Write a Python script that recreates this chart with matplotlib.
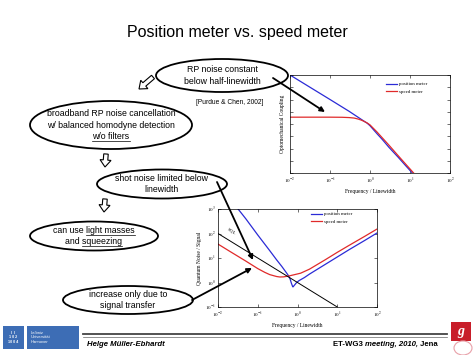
import matplotlib
matplotlib.use("Agg")
import matplotlib.pyplot as plt
from matplotlib.patches import Ellipse, FancyArrow, Rectangle

# Folienmaße in Pixel
W, H = 474, 355

# Daten oben: optomechanische Kopplung
f_top = [0.01, 0.03, 0.1, 0.3, 0.5, 0.7, 0.85, 1.0, 1.5, 2, 3, 5, 8, 12, 15]
k_pos = [10, 3.33, 1.0, 0.33, 0.19, 0.132, 0.108, 0.085, 0.04, 0.024, 0.011,
         0.0045, 0.0019, 0.00092, 0.0006]
f_top_sp = [0.01, 0.1, 0.2, 0.3, 0.4, 0.5, 0.6, 0.7, 0.85, 1.0, 1.5, 2, 3, 5, 8, 12, 15]
k_speed = [0.19, 0.19, 0.188, 0.183, 0.175, 0.16, 0.145, 0.13, 0.11, 0.092,
           0.047, 0.028, 0.0135, 0.0052, 0.0022, 0.00105, 0.0007]

# Daten unten: Quantenrauschen / Signal
f_pos = [0.01, 0.032, 0.05, 0.1, 0.2, 0.3, 0.4, 0.5, 0.6, 0.65, 0.7, 0.75, 0.77,
         0.85, 0.95, 1.1, 1.5, 2, 3, 5, 10, 20, 50, 100]
n_pos = [12000, 1000, 400, 87, 20, 8.3, 4.6, 2.8, 1.85, 1.4, 0.95, 0.7, 0.66,
         0.8, 1.0, 1.2, 1.6, 2.2, 3.3, 5.5, 11, 22, 53, 105]
f_speed = [0.01, 0.02, 0.05, 0.1, 0.15, 0.2, 0.3, 0.36, 0.45, 0.6, 0.8, 1.2,
           2, 5, 10, 20, 50, 100]
n_speed = [37, 18.5, 7.5, 3.7, 2.6, 2.1, 1.75, 1.68, 1.7, 1.84, 2.05, 2.4,
           3.5, 8.5, 17, 33, 78, 152]
f_sql = [0.01, 10]
n_sql = [100, 0.1]

xticks = [0.01, 0.1, 1, 10, 100]
xticklabels = ['$10^{-2}$', '$10^{-1}$', '$10^{0}$', '$10^{1}$', '$10^{2}$']
yticks_bot = [0.1, 1, 10, 100, 1000]
yticklabels_bot = ['$10^{-1}$', '$10^{0}$', '$10^{1}$', '$10^{2}$', '$10^{3}$']

BLUE = '#2b2bd6'
RED = '#e02a2a'

plt.rcParams['font.family'] = ['Liberation Sans', 'DejaVu Sans']
plt.rcParams['mathtext.fontset'] = 'stix'


def rect(x0, y0, x1, y1):
    return [x0 / W, 1 - y1 / H, (x1 - x0) / W, (y1 - y0) / H]


fig = plt.figure(figsize=(W / 100, H / 100), dpi=100)


def style_axes(ax):
    ax.set_xscale('log')
    ax.set_yscale('log')
    ax.set_xlim(0.01, 100)
    ax.set_xticks(xticks)
    ax.set_xticklabels(xticklabels, fontsize=3.6, family='Liberation Serif')
    ax.minorticks_off()
    ax.tick_params(direction='in', top=True, right=True, length=2, width=0.4, pad=1.5)
    ax.tick_params(axis='x', pad=2.5)
    for s in ax.spines.values():
        s.set_linewidth(0.5)
    ax.set_xlabel('Frequency / Linewidth', fontsize=4, family='Liberation Serif', labelpad=2)


legend_font = {'family': 'Liberation Serif', 'size': 3.5}

# --- oberes Diagramm ---
ax1 = fig.add_axes(rect(290, 75, 450, 173))
style_axes(ax1)
ax1.plot(f_top, k_pos, color=BLUE, lw=0.9, label='position meter')
ax1.plot(f_top_sp, k_speed, color=RED, lw=0.9, label='speed meter')
ax1.set_ylim(1e-3, 10)
ax1.set_yticks([10 ** (k / 2) for k in range(-6, 3)])
ax1.set_yticklabels([])
ax1.set_ylabel('Optomechanical Coupling', fontsize=4, family='Liberation Serif', labelpad=2)
ax1.legend(loc='upper left', bbox_to_anchor=(0.6, 0.93), frameon=False, prop=legend_font,
           handlelength=2.2, handletextpad=0.5, borderaxespad=0, borderpad=0,
           labelspacing=0.7)

# --- unteres Diagramm ---
ax2 = fig.add_axes(rect(218, 209, 377, 307))
style_axes(ax2)
ax2.plot(f_pos, n_pos, color=BLUE, lw=0.9, label='position meter')
ax2.plot(f_speed, n_speed, color=RED, lw=0.9, label='speed meter')
ax2.plot(f_sql, n_sql, color='black', lw=0.7)
ax2.set_ylim(0.1, 1000)
ax2.set_yticks(yticks_bot)
ax2.set_yticklabels(yticklabels_bot, fontsize=3.6, family='Liberation Serif')
ax2.minorticks_off()
ax2.set_ylabel('Quantum Noise / Signal', fontsize=4, family='Liberation Serif', labelpad=2)
ax2.text(0.022, 120, 'SQL', fontsize=3.6, family='Liberation Serif', rotation=-32,
         ha='center', va='center')
ax2.legend(loc='upper left', bbox_to_anchor=(0.585, 0.97), frameon=False, prop=legend_font,
           handlelength=2.2, handletextpad=0.5, borderaxespad=0, borderpad=0,
           labelspacing=0.7)

# --- Folien-Overlay in Pixelkoordinaten ---
ov = fig.add_axes([0, 0, 1, 1], zorder=5)
ov.set_xlim(0, W)
ov.set_ylim(H, 0)
ov.axis('off')
ov.patch.set_alpha(0)

ov.text(237, 33, 'Position meter vs. speed meter', fontsize=11.5, ha='center', va='center')

ellipsen = [
    ((222, 75.5), 132, 33, ['RP noise constant', 'below half-linewidth']),
    ((111, 125), 162, 48, ['broadband RP noise cancellation',
                           'w/ balanced homodyne detection', 'w/o filters']),
    ((162, 184), 130, 29, ['shot noise limited below', 'linewidth']),
    ((94, 236), 128, 29, ['can use light masses', 'and squeezing']),
    ((128, 300), 130, 28, ['increase only due to', 'signal transfer']),
]
unterstrichen = {'w/o filters': 'w/o filters', 'can use light masses': 'light masses',
                 'and squeezing': 'squeezing'}

zeilen = []
for (cx, cy), w, h, lines in ellipsen:
    ov.add_patch(Ellipse((cx, cy), w, h, facecolor='white', edgecolor='black', lw=1.3))
    n = len(lines)
    for i, s in enumerate(lines):
        y = cy + (i - (n - 1) / 2) * 11.3
        t = ov.text(cx, y, s, fontsize=6.3, ha='center', va='center')
        zeilen.append((t, s))

ov.text(230, 102, '[Purdue & Chen, 2002]', fontsize=4.8, ha='center', va='center')

# hohle Pfeile
for x, y, dx, dy in [(153, 77, -14, 12), (106, 154, -1, 13), (105, 199, -1, 13)]:
    ov.add_patch(FancyArrow(x, y, dx, dy, width=4.5, head_width=11, head_length=7,
                            length_includes_head=True, facecolor='white',
                            edgecolor='black', lw=0.8))

# schwarze Pfeile
for (x0, y0), (x1, y1) in [((273, 78), (325, 112)), ((217, 182), (253, 260)),
                           ((192, 300), (252, 268))]:
    ov.annotate('', xy=(x1, y1), xytext=(x0, y0),
                arrowprops=dict(arrowstyle='-|>', lw=1.3, color='black',
                                mutation_scale=7, shrinkA=0, shrinkB=0))

# Fußzeile
ov.plot([83, 447], [334, 334], color='#444444', lw=1.3)
ov.plot([83, 447], [337.3, 337.3], color='#666666', lw=0.5)
ov.text(87, 345, 'Helge Müller-Ebhardt', fontsize=5.6, fontweight='bold', style='italic',
        ha='left', va='center')

# Logo Leibniz Universität Hannover
ov.add_patch(Rectangle((3, 326), 21, 23, facecolor='#3d6db5', edgecolor='none'))
ov.add_patch(Rectangle((27, 326), 52, 23, facecolor='#3d6db5', edgecolor='none'))
ov.text(13.5, 337.5, 'I  I\n1 0 2\n10 0 4', fontsize=2.6, color='white', ha='center',
        va='center', fontweight='bold', linespacing=1.1)
ov.text(31, 337.5, 'Leibniz\nUniversität\nHannover', fontsize=3, color='white',
        ha='left', va='center', linespacing=1.15)

# Logo rechts unten
ov.add_patch(Rectangle((451, 322), 20, 19, facecolor='#c81e2a', edgecolor='none'))
ov.text(461, 331.5, 'g', fontsize=10, color='white', style='italic', fontweight='bold',
        ha='center', va='center', family='Liberation Serif')
ov.add_patch(Ellipse((463, 348), 18, 14, facecolor='none', edgecolor='#e8a0a8', lw=0.8))

fig.canvas.draw()
r = fig.canvas.get_renderer()
inv = ov.transData.inverted()

# Unterstreichungen
for t, s in zeilen:
    if s in unterstrichen:
        bb = t.get_window_extent(r)
        tmp = ov.text(0, 0, unterstrichen[s], fontsize=6.3)
        wb = tmp.get_window_extent(r)
        tmp.remove()
        (xa, yb), (xb, _) = inv.transform([(bb.x1 - wb.width, bb.y0), (bb.x1, bb.y0)])
        ov.plot([xa, xb], [yb + 0.3, yb + 0.3], color='black', lw=0.5)

# rechte Fußzeile, Stück für Stück
x = 333
for s, st in [('ET-WG3 ', 'normal'), ('meeting, 2010,', 'italic'), (' Jena', 'normal')]:
    t = ov.text(x, 345, s, fontsize=5.6, fontweight='bold', style=st, ha='left', va='center')
    bb = t.get_window_extent(r)
    x = inv.transform((bb.x1, bb.y0))[0]

plt.savefig('out.png', dpi=100)
